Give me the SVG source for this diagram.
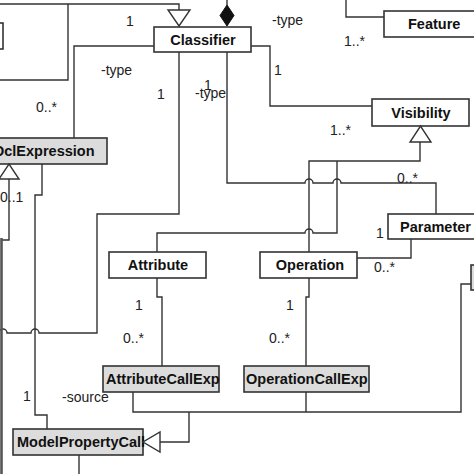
<svg xmlns="http://www.w3.org/2000/svg" width="474" height="474" viewBox="0 0 474 474">
<style>
.box{fill:#fff;stroke:#333;stroke-width:1.6}
.gbox{fill:#dcdcdc;stroke:#333;stroke-width:1.6}
.nm{font-family:"Liberation Sans",Arial,sans-serif;font-weight:bold;font-size:14.5px;fill:#111}
.lb{font-family:"Liberation Sans",Arial,sans-serif;font-size:14px;fill:#222}
.ln{fill:none;stroke:#333;stroke-width:1.4}
.tri{fill:#fff;stroke:#333;stroke-width:1.4}
</style>
<rect width="474" height="474" fill="#fff"/>
<g id="connectors">
<path class="ln" d="M0 4 L179 4 L179 10"/>
<path class="ln" d="M68 4 L68 80 L0 80"/>
<path class="ln" d="M227 0 L227 5"/>
<path class="ln" d="M154 46 L74 46 L74 138"/>
<path class="ln" d="M251 46 L270 46 L270 106 L372 106"/>
<path class="ln" d="M227 52 L227 183 L305 183 A4 4 0 0 1 313 183 L333 183 A4 4 0 0 1 341 183 L436 183 L436 214"/>
<path class="ln" d="M-1 333 A4 4 0 0 1 7 333 L31 333 A4 4 0 0 1 39 333 L97 333 L97 214 L179 214 L179 52"/>
<path class="ln" d="M420 142 L420 161 L309 161 L309 252"/>
<path class="ln" d="M337 161 L337 233 L313 233 A4 4 0 0 0 305 233 L157 233 L157 252"/>
<path class="ln" d="M411 239 L411 258 L357 258"/>
<path class="ln" d="M157 278 L157 297 L162 297 L162 366"/>
<path class="ln" d="M309 278 L309 297 L306 297 L306 366"/>
<path class="ln" d="M42 164 L42 195 L35 195 L35 415 L47 415 L47 429"/>
<path class="ln" d="M9 179 L9 240 L2 240"/>
<path d="M1.5 238 L1.5 474" fill="none" stroke="#555" stroke-width="2.6"/>
<path class="ln" d="M133 392 L133 412 L461 412 L461 284 L471 284"/>
<path class="ln" d="M306 392 L306 412"/>
<path class="ln" d="M189 412 L189 442 L160 442"/>
<path class="ln" d="M79 455 L79 474"/>
<path class="ln" d="M384 17 L346 17 L346 0"/>
</g>
<g id="leftTopBox"><rect class="box" x="-10" y="23" width="13" height="26"/></g>
<g id="Classifier"><rect class="box" x="154" y="27" width="97" height="25"/><text class="nm" x="203" y="44.5" text-anchor="middle">Classifier</text></g>
<g id="Feature"><rect class="box" x="384" y="11" width="100" height="26"/><text class="nm" x="408" y="29">Feature</text></g>
<g id="Visibility"><rect class="box" x="372" y="99" width="97" height="27"/><text class="nm" x="421" y="117.5" text-anchor="middle">Visibility</text></g>
<g id="OclExpression"><rect class="gbox" x="-15" y="138" width="122" height="26"/><text class="nm" x="-7" y="156">OclExpression</text></g>
<g id="Parameter"><rect class="box" x="388" y="214" width="100" height="25"/><text class="nm" x="400" y="231.5">Parameter</text></g>
<g id="Attribute"><rect class="box" x="109" y="252" width="97" height="26"/><text class="nm" x="158" y="270" text-anchor="middle">Attribute</text></g>
<g id="Operation"><rect class="box" x="260" y="252" width="97" height="26"/><text class="nm" x="310" y="270" text-anchor="middle">Operation</text></g>
<g id="AttributeCallExp"><rect class="gbox" x="103" y="366" width="116" height="26"/><text class="nm" x="106" y="384">AttributeCallExp</text></g>
<g id="OperationCallExp"><rect class="gbox" x="244" y="366" width="125" height="26"/><text class="nm" x="246" y="384">OperationCallExp</text></g>
<g id="ModelPropertyCallExp"><rect class="gbox" x="13" y="429" width="130" height="26"/><text class="nm" x="17" y="447">ModelPropertyCall</text></g>
<g id="rightBox"><rect class="gbox" x="471" y="265" width="20" height="25"/></g>
<g id="markers">
<polygon class="tri" points="168,10 190,10 179,26"/>
<polygon points="227,5 234,15.5 227,26 220,15.5" fill="#111" stroke="#111" stroke-width="1"/>
<polygon class="tri" points="410,142 431,142 420.5,126"/>
<polygon class="tri" points="-1,179 19,179 9,164"/>
<polygon class="tri" points="160,432 160,452 143,442"/>
</g>
<g id="labels">
<text class="lb" x="126" y="26">1</text>
<text class="lb" x="101" y="75">-type</text>
<text class="lb" x="157" y="99">1</text>
<text class="lb" x="36" y="112">0..*</text>
<text class="lb" x="204" y="90">1</text>
<text class="lb" x="195" y="98">-type</text>
<text class="lb" x="272" y="25">-type</text>
<text class="lb" x="344" y="46">1..*</text>
<text class="lb" x="274" y="75">1</text>
<text class="lb" x="330" y="135">1..*</text>
<text class="lb" x="397" y="183">0..*</text>
<text class="lb" x="376" y="238">1</text>
<text class="lb" x="374" y="272">0..*</text>
<text class="lb" x="0" y="202">0..1</text>
<text class="lb" x="135" y="310">1</text>
<text class="lb" x="123" y="343">0..*</text>
<text class="lb" x="286" y="310">1</text>
<text class="lb" x="269" y="343">0..*</text>
<text class="lb" x="23" y="401">1</text>
<text class="lb" x="62" y="402">-source</text>
</g>
</svg>
